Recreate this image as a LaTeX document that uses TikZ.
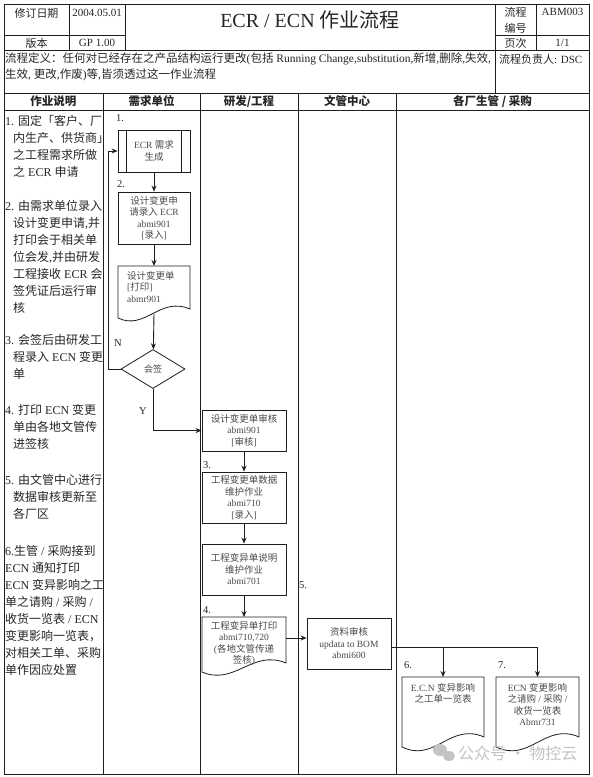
\documentclass[tikz,border=0pt]{standalone}
\usepackage{fontspec}
\setmainfont{Liberation Serif}
\newfontfamily\cjk{Noto Sans CJK SC}
\usetikzlibrary{shapes.geometric,arrows.meta,calc}
\newcommand\zh[1]{{\cjk #1}}
\definecolor{ln}{HTML}{1E1E1E}
\definecolor{tx}{HTML}{262626}
\definecolor{bx}{HTML}{4A4A4A}
\definecolor{wm}{HTML}{C4C4C4}
\begin{document}
\begin{tikzpicture}[x=1pt,y=-1pt,
 grid/.style={draw=ln, line width=0.9pt},
 hdr/.style={font=\fontsize{11}{14}\selectfont, text=tx, inner sep=0pt},
 colhead/.style={font=\cjk\bfseries\fontsize{11.5}{13}\selectfont, text=tx, inner sep=0pt},
 desc/.style={font=\fontsize{12}{17}\selectfont, align=left, anchor=north west, inner sep=0pt, text=tx},
 box/.style={draw=ln, line width=0.8pt, fill=white, align=center, inner sep=0pt, font=\fontsize{9.5}{11.5}\selectfont, text=bx},
 doctext/.style={align=center, inner sep=0pt, font=\fontsize{9.5}{11.5}\selectfont, text=bx},
 docshape/.style={draw=ln, line width=0.8pt, fill=white},
 flow/.style={draw=ln, line width=0.9pt, -{Stealth[length=6pt,width=5pt]}},
 plain/.style={draw=ln, line width=0.9pt},
 lbl/.style={font=\fontsize{10.5}{12}\selectfont, inner sep=0pt, text=tx},
]
\path[use as bounding box, fill=white] (0,0) rectangle (593,777);

% ---------- table frame ----------
\draw[grid] (4,4) rectangle (589,774);
\draw[grid] (4,50) -- (589,50);
\draw[grid] (4,93) -- (589,93);
\draw[grid] (4,110) -- (589,110);
\draw[grid] (69,4) -- (69,50);
\draw[grid] (125,4) -- (125,50);
\draw[grid] (495,4) -- (495,93);
\draw[grid] (536,4) -- (536,50);
\draw[grid] (4,35) -- (125,35);
\draw[grid] (495,35) -- (589,35);
\foreach \cx in {103,200,298,396} \draw[grid] (\cx,93) -- (\cx,774);

% ---------- header texts ----------
\node[hdr] (h1) at (36.5,13) {\zh{修订日期}};
\node[hdr] (h2) at (97,13) {2004.05.01};
\node[hdr] (h3) at (36.5,43) {\zh{版本}};
\node[hdr] (h4) at (97,43) {GP 1.00};
\node[inner sep=0pt, text=tx, font=\fontsize{20}{22}\selectfont] (title) at (310,20) {ECR / ECN \zh{作业流程}};
\node[hdr] (h5) at (515.5,12) {\zh{流程}};
\node[hdr] (h6) at (515.5,28) {\zh{编号}};
\node[hdr] (h7) at (562.5,12) {ABM003};
\node[hdr] (h8) at (515.5,43) {\zh{页次}};
\node[hdr] (h9) at (562.5,43) {1/1};
\node[hdr, align=left, anchor=north west, font=\fontsize{11.5}{16}\selectfont] (def) at (5,52.5)
 {\zh{流程定义：任何对已经存在之产品结构运行更改}(\zh{包括} Running Change,substitution,\zh{新增},\zh{删除},\zh{失效},\\
  \zh{生效}, \zh{更改},\zh{作废})\zh{等},\zh{皆须透过这一作业流程}};
\node[hdr, anchor=west] (owner) at (499,59) {\zh{流程负责人}: DSC};

\node[colhead] (c1) at (53.5,101.5) {作业说明};
\node[colhead] (c2) at (151.5,101.5) {需求单位};
\node[colhead] (c3) at (249,101.5) {研发/工程};
\node[colhead] (c4) at (347,101.5) {文管中心};
\node[colhead] (c5) at (492.5,101.5) {各厂生管 / 采购};

% ---------- left description ----------
\node[desc] (n1) at (5,115.5) {1. \zh{固定「客户、厂}\\\hspace*{8pt}\zh{内生产、供货商」}\\\hspace*{8pt}\zh{之工程需求所做}\\\hspace*{8pt}\zh{之} ECR \zh{申请}};
\node[desc] (n2) at (5,200.5) {2. \zh{由需求单位录入}\\\hspace*{8pt}\zh{设计变更申请},\zh{并}\\\hspace*{8pt}\zh{打印会于相关单}\\\hspace*{8pt}\zh{位会发},\zh{并由研发}\\\hspace*{8pt}\zh{工程接收} ECR \zh{会}\\\hspace*{8pt}\zh{签凭证后运行审}\\\hspace*{8pt}\zh{核}};
\node[desc] (n3) at (5,334.5) {3. \zh{会签后由研发工}\\\hspace*{8pt}\zh{程录入} ECN \zh{变更}\\\hspace*{8pt}\zh{单}};
\node[desc] (n4) at (5,404.5) {4. \zh{打印} ECN \zh{变更}\\\hspace*{8pt}\zh{单由各地文管传}\\\hspace*{8pt}\zh{进签核}};
\node[desc] (n5) at (5,474.5) {5. \zh{由文管中心进行}\\\hspace*{8pt}\zh{数据审核更新至}\\\hspace*{8pt}\zh{各厂区}};
\node[desc] (n6) at (5,545.5) {6.\zh{生管} / \zh{采购接到}\\ECN \zh{通知打印}\\ECN \zh{变异影响之工}\\\zh{单之请购} / \zh{采购} /\\\zh{收货一览表} / ECN\\\zh{变更影响一览表，}\\\zh{对相关工单、采购}\\\zh{单作因应处置}};

% ---------- column 2: 需求单位 ----------
\node[lbl] (l1) at (120,118) {1.};
\node[box, minimum width=72pt, minimum height=42pt] (b1) at (154,151) {ECR \zh{需求}\\\zh{生成}};
\draw[draw=ln, line width=0.8pt] ([xshift=9pt]b1.north west) -- ([xshift=9pt]b1.south west);
\draw[draw=ln, line width=0.8pt] ([xshift=-9pt]b1.north east) -- ([xshift=-9pt]b1.south east);
\node[lbl] (l2) at (121,184) {2.};
\node[box, minimum width=72pt, minimum height=52pt] (b2) at (154,218) {\zh{设计变更申}\\\zh{请录入} ECR\\abmi901\\{[}\zh{录入}{]}};
% document 3
\draw[docshape] (118,266) -- (190,266) -- (190,309) .. controls (160,296) and (145,331) .. (118,318) -- cycle;
\coordinate (d3t) at (154,266);
\coordinate (d3b) at (154,314);
\node[doctext, align=left, anchor=north west] (d3) at (127,271) {\zh{设计变更单}\\{[}\zh{打印}{]}\\abmr901};
% decision
\node[diamond, draw=ln, line width=0.8pt, fill=white, inner sep=0pt, minimum width=64pt, minimum height=39pt, shape aspect=1.64, font=\fontsize{9}{11}\selectfont, text=bx] (dm) at (153,369) {\zh{会签}};
\node[lbl] (lN) at (118,343) {N};
\node[lbl] (lY) at (143,411) {Y};
\coordinate (nl1) at (108,369);
\coordinate (nl2) at (108,151);

% ---------- column 3: 研发/工程 ----------
\node[box, minimum width=84pt, minimum height=41pt] (b4) at (244,430.5) {\zh{设计变更单审核}\\abmi901\\{[}\zh{审核}{]}};
\node[lbl] (l3) at (207,465) {3.};
\node[box, minimum width=84pt, minimum height=51pt] (b5) at (244,497.5) {\zh{工程变更单数据}\\\zh{维护作业}\\abmi710\\{[}\zh{录入}{]}};
\node[box, minimum width=84pt, minimum height=51pt] (b6) at (244,569.5) {\zh{工程变异单说明}\\\zh{维护作业}\\abmi701};
\node[lbl] (l4) at (207,610) {4.};
\draw[docshape] (202,617) -- (286,617) -- (286,663) .. controls (252,649) and (235,686) .. (202,672) -- cycle;
\coordinate (d4t) at (244,617);
\coordinate (d4e) at (286,638);
\node[doctext, anchor=north] (d4) at (244,621) {\zh{工程变异单打印}\\abmi710,720\\(\zh{各地文管传递}\\\zh{签核})};

% ---------- column 4: 文管中心 ----------
\node[lbl] (l5) at (303,585) {5.};
\node[box, minimum width=84pt, minimum height=51pt] (b7) at (349,643.5) {\zh{资料审核}\\updata to BOM\\abmi600};
\coordinate (b7o) at ($(b7.east)+(0,3.5)$);

% ---------- column 5: 各厂生管 / 采购 ----------
\node[lbl] (l6) at (408,665) {6.};
\node[lbl] (l7) at (502,665) {7.};
\draw[docshape] (402,677) -- (484,677) -- (484,737) .. controls (450,722) and (435,763) .. (402,747) -- cycle;
\draw[docshape] (496,677) -- (579,677) -- (579,737) .. controls (545,722) and (530,763) .. (496,747) -- cycle;
\coordinate (d6t) at (443,677);
\coordinate (d7t) at (537.5,677);
\node[doctext, anchor=north] (d6) at (443,683) {E.C.N \zh{变异影响}\\\zh{之工单一览表}};
\node[doctext, anchor=north] (d7) at (537.5,683) {ECN \zh{变更影响}\\\zh{之请购} / \zh{采购} /\\\zh{收货一览表}\\Abmr731};

% ---------- connectors ----------
\draw[flow] (b1) -- (b2);
\draw[flow] (b2) -- (d3t);
\draw[flow] (d3b) -- (dm);
\draw[flow] (dm.west) -- (nl1) -- (nl2) -- (b1.west);
\draw[flow] (dm.south) |- (b4.west);
\draw[flow] (b4) -- (b5);
\draw[flow] (b5) -- (b6);
\draw[flow] (b6) -- (d4t);
\draw[flow] (d4e) -- (d4e -| b7.west);
\draw[plain] (b7o) -- (b7o -| d7t);
\draw[flow] (b7o -| d6t) -- (d6t);
\draw[flow] (b7o -| d7t) -- (d7t);

% ---------- watermark ----------
\fill[wm] (440,750) ellipse (7pt and 6pt);
\fill[wm] (449,756) ellipse (6pt and 5pt);
\node[inner sep=0pt, text=wm, font=\cjk\fontsize{16}{18}\selectfont, anchor=west] (wmk) at (458,753) {公众号 · 物控云};
\end{tikzpicture}
\end{document}
